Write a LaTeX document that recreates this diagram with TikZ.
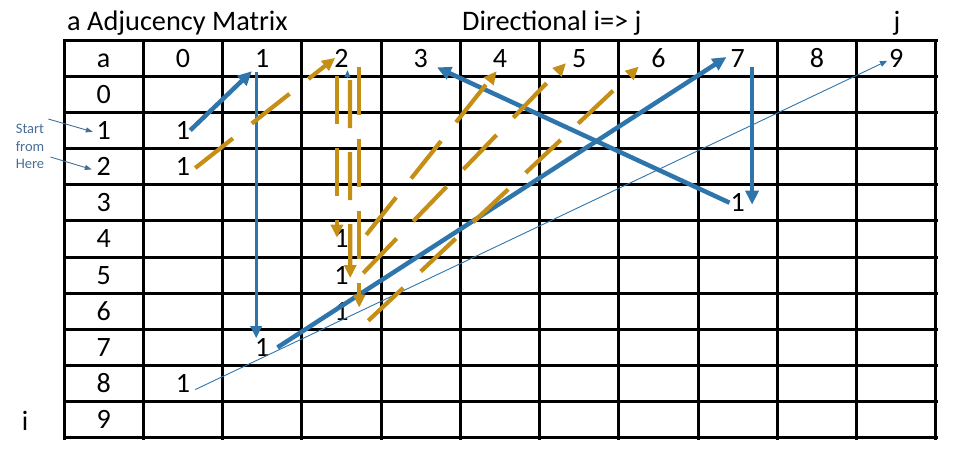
\documentclass[tikz,border=0pt]{standalone}
\usepackage{fontspec}
\setmainfont{Carlito}
\usetikzlibrary{arrows.meta}

\definecolor{pathblue}{RGB}{46,117,172}
\definecolor{pathgold}{RGB}{197,142,20}
\definecolor{notegray}{RGB}{72,110,148}

\begin{document}
\begin{tikzpicture}[x=1pt,y=-1pt,
    cell/.style={inner sep=0pt,anchor=base,font=\fontsize{28}{30}\selectfont},
    title/.style={inner sep=0pt,anchor=base west,font=\fontsize{28.3}{30}\selectfont},
    grid line/.style={line width=3pt,line cap=rect},
    blue arrow/.style={pathblue,line width=4.5pt,-{Triangle[length=14pt,width=13pt]}},
    blue line/.style={pathblue,line width=3pt,-{Triangle[length=12pt,width=11pt]}},
    thin arrow/.style={pathblue,line width=0.9pt,-{Triangle[length=7pt,width=6pt]}},
    gold arrow/.style={pathgold,line width=4.2pt,dash pattern=on 48pt off 24pt,-{Triangle[length=13pt,width=12pt]}},
    note arrow/.style={notegray,line width=0.9pt,-{Triangle[length=7pt,width=5pt]}}]

\useasboundingbox (0,0) rectangle (954,461);

% grid
\foreach \k in {0,...,11}
    \draw[grid line] (64,{40+\k*36.18}) -- (936,{40+\k*36.18});
\foreach \k in {0,...,11}
    \draw[grid line] ({64+\k*79.27},40) -- ({64+\k*79.27},438);

% header and row labels
\node[cell] (ha) at (103.6,67) {a};
\foreach \j in {0,...,9}
    \node[cell] (h\j) at ({64+(\j+1.5)*79.27},67) {\j};
\foreach \i in {0,...,9}
    \node[cell] (r\i) at (103.6,{48.9+(\i+1.5)*36.18}) {\i};

% entries
\foreach \i/\j in {1/0,2/0,3/7,4/2,5/2,6/2,7/1,8/0}
    \node[cell] (e\i\j) at ({64+(\j+1.5)*79.27},{48.9+(\i+1.5)*36.18}) {1};

% titles
\node[title] (tmat) at (67,30) {a Adjucency Matrix};
\node[title] (tdir) at (462,30) {Directional i=> j};
\node[cell] (jlab) at (897,30) {j};
\node[cell] (ilab) at (25,430) {i};
\node[align=center,text=notegray,inner sep=0pt,font=\fontsize{14.5}{17.5}\selectfont] (start) at (30,146.5) {Start\\from\\Here};

\path
    ([xshift=4pt,yshift=5pt]start.north east) edge[note arrow] ([xshift=-3.5pt,yshift=-1.5pt]r1.west)
    ([xshift=6pt,yshift=-10.5pt]start.east) edge[note arrow] ([xshift=-4.5pt,yshift=-3pt]r2.west);

% blue path
\path
    (e10.east) edge[blue arrow] ([xshift=-3pt,yshift=-4pt]h1.south west)
    ([xshift=-6pt,yshift=-5pt]h1.south) edge[blue line] ([xshift=-6pt]e71.north)
    ([xshift=8pt]e71.east) edge[blue arrow] ([xshift=-4pt,yshift=1pt]h7.west)
    ([xshift=7pt]h7.south east) edge[blue arrow] ([xshift=7pt,yshift=-2pt]e37.east)
    ([xshift=-1pt]e37.west) edge[blue arrow] ([xshift=9pt]h3.south east)
    ([xshift=5pt,yshift=-6pt]e80.east) edge[thin arrow] ([xshift=-2pt,yshift=-3pt]h9.west)
    ([xshift=6pt,yshift=-11pt]h2.south) edge[thin arrow] ([xshift=6pt,yshift=-3pt]h2.south);

% gold path
\path
    ([xshift=5pt,yshift=-1.5pt]e20.east) edge[gold arrow] ([xshift=1pt]h2.west)
    ([xshift=-4.5pt,yshift=-9pt]h2.south) edge[gold arrow] ([xshift=-4.5pt,yshift=-8pt]e42.north)
    ([xshift=8.5pt,yshift=-13pt]h2.south) edge[gold arrow] ([xshift=1.5pt,yshift=-3pt]e52.east)
    ([xshift=10.5pt]h2.south east) edge[gold arrow] ([xshift=10.5pt,yshift=-5.5pt]e62.north east)
    ([xshift=17.5pt,yshift=4pt]e42.east) edge[gold arrow] ([xshift=4pt,yshift=-4pt]h4.south west)
    ([xshift=14.5pt,yshift=2pt]e52.east) edge[gold arrow] ([xshift=-6pt,yshift=-5pt]h5.west)
    ([xshift=19.5pt,yshift=-9.5pt]e62.east) edge[gold arrow] ([xshift=-12.5pt,yshift=-9pt]h6.west);
\end{tikzpicture}
\end{document}
